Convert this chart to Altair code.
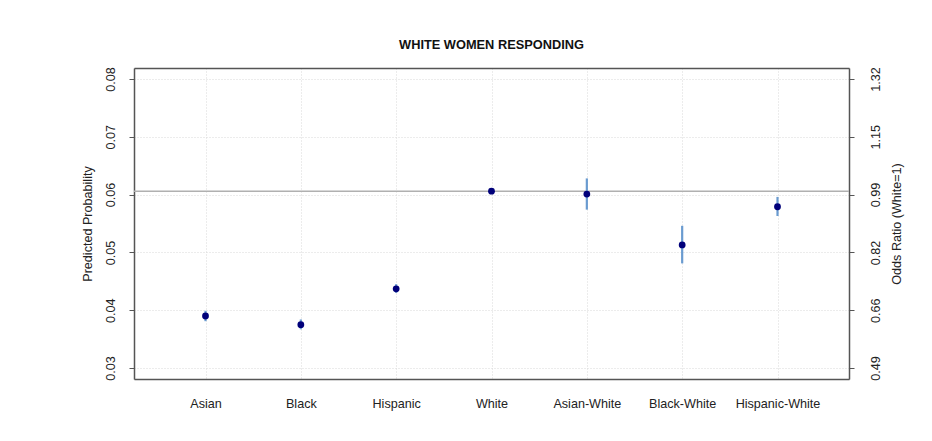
import altair as alt
import pandas as pd

categories = ["Asian", "Black", "Hispanic", "White", "Asian-White", "Black-White", "Hispanic-White"]
estimate = [0.0390, 0.0375, 0.0437, 0.0606, 0.0601, 0.0513, 0.0579]
lower = [0.0381, 0.0367, 0.0430, 0.0603, 0.0574, 0.0481, 0.0563]
upper = [0.0399, 0.0384, 0.0445, 0.0609, 0.0628, 0.0546, 0.0596]
reference = [0.0606]
left_ticks = [0.03, 0.04, 0.05, 0.06, 0.07, 0.08]
right_labels = ["0.49", "0.66", "0.82", "0.99", "1.15", "1.32"]

df = pd.DataFrame({"cat": categories, "est": estimate, "lo": lower, "hi": upper})
ref = pd.DataFrame({"y": reference})

ydom = [0.0281, 0.0819]
font = "Liberation Sans"
frame = "#555555"
fs = 12.6

xscale = alt.Scale(type="point", padding=0.75)
yscale = alt.Scale(domain=ydom, nice=False, zero=False)

x_bottom = alt.X("cat:N", sort=categories, title=None, scale=xscale,
                 axis=alt.Axis(ticks=False, domain=True, domainColor=frame, domainWidth=1.5,
                               labelAngle=0, labelFontSize=fs,
                               labelPadding=18, labelFont=font, labelColor="#222",
                               grid=True, gridColor="#d8d8d8", gridDash=[1, 2], gridWidth=1))
x_top = alt.X("cat:N", sort=categories, title=None, scale=xscale,
              axis=alt.Axis(orient="top", ticks=False, labels=False, domain=True,
                            domainColor=frame, domainWidth=1.5, grid=False))

left_axis = alt.Axis(values=left_ticks, format=".2f", title="Predicted Probability",
                     labelAngle=270, labelAlign="center", labelBaseline="middle",
                     labelPadding=19, tickSize=5, tickColor=frame, tickWidth=1,
                     domain=True, domainColor=frame, domainWidth=1.5,
                     labelFontSize=fs, labelFont=font, labelColor="#222",
                     titleFontSize=fs, titleFont=font, titleFontWeight="normal", titleColor="#222",
                     titleAngle=270, titleBaseline="middle", titlePadding=17,
                     grid=True, gridColor="#d8d8d8", gridDash=[1, 2], gridWidth=1)

label_expr = "[" + ",".join("'" + s + "'" for s in right_labels) + "][round((datum.value-0.03)*100)]"
right_axis = alt.Axis(values=left_ticks, orient="right", title="Odds Ratio (White=1)",
                      labelExpr=label_expr,
                      labelAngle=270, labelAlign="center", labelBaseline="middle",
                      labelPadding=21, tickSize=5, tickColor=frame, tickWidth=1,
                      domain=True, domainColor=frame, domainWidth=1.5,
                      labelFontSize=fs, labelFont=font, labelColor="#222",
                      titleFontSize=fs, titleFont=font, titleFontWeight="normal", titleColor="#222",
                      titleAngle=270, titleBaseline="middle", titlePadding=15, grid=False)

refline = alt.Chart(ref).mark_rule(color="#b0b0b0", strokeWidth=1.5).encode(
    y=alt.Y("y:Q", scale=yscale, axis=left_axis)
)

bars = alt.Chart(df).mark_rule(color="#6a9bd0", strokeWidth=2.2).encode(
    x=x_bottom,
    y=alt.Y("lo:Q", scale=yscale, axis=right_axis),
    y2="hi:Q",
)

points = alt.Chart(df).mark_point(filled=True, shape="circle", size=46, color="#00007a", opacity=1).encode(
    x=x_top,
    y=alt.Y("est:Q", scale=yscale, axis=None),
)

chart = alt.layer(refline, bars, points).resolve_axis(x="independent", y="independent").properties(
    width=715, height=311,
    title=alt.TitleParams("WHITE WOMEN RESPONDING", font=font, fontSize=12.8, fontWeight="bold",
                          color="#111", anchor="middle", offset=15),
    autosize=alt.AutoSizeParams(type="none"),
    padding={"left": 126, "top": 60, "right": 70, "bottom": 44},
).configure_view(stroke=None).configure(background="white")

chart.save("out.html", embed_options={"renderer": "svg", "actions": False})
